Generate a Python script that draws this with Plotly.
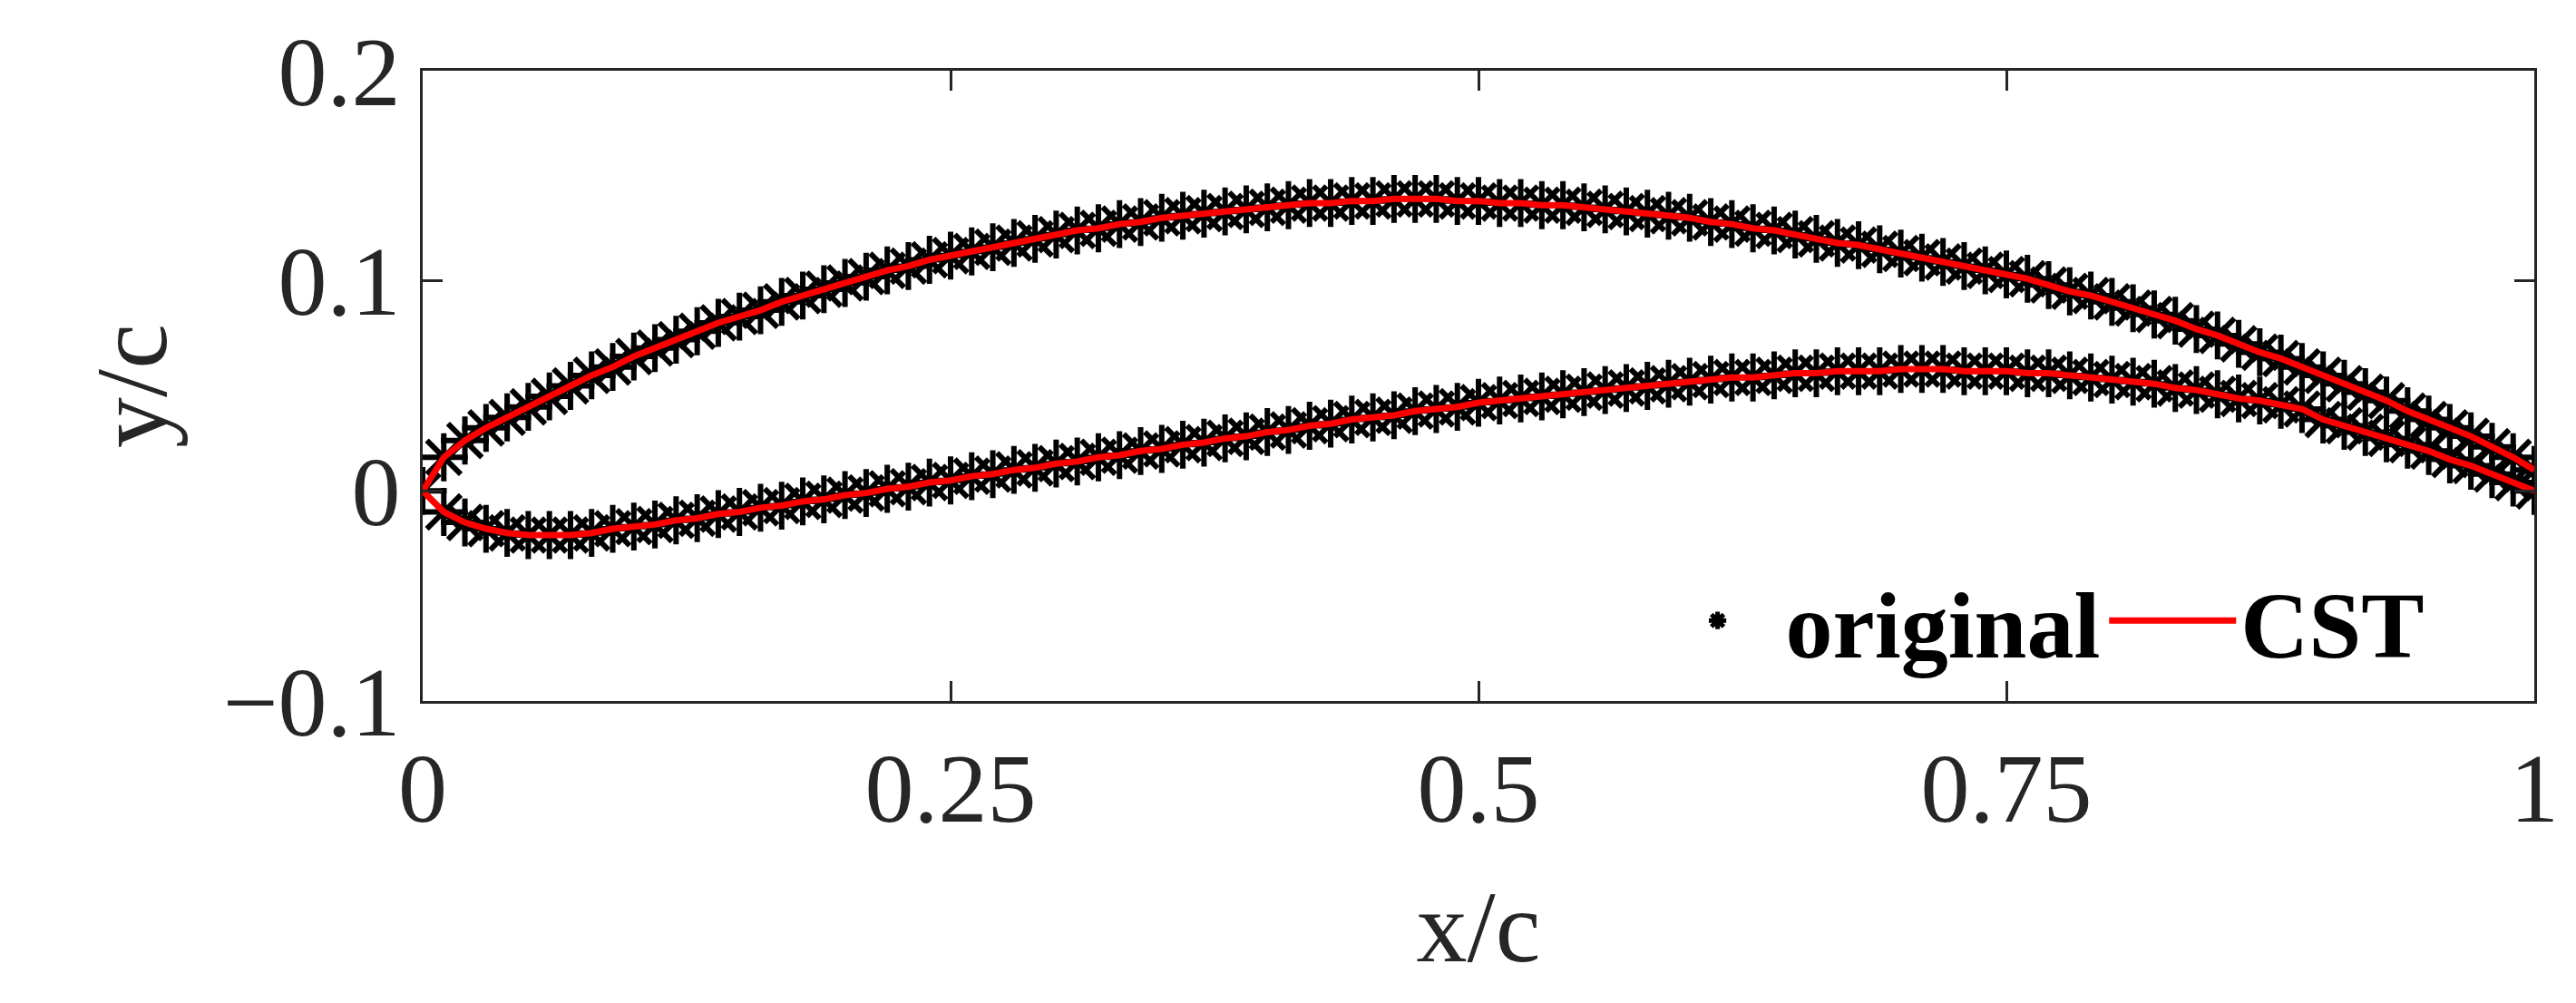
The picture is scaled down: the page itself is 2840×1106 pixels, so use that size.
import plotly.graph_objects as go

# chordwise stations (x/c)
x_c = [i / 100 for i in range(101)]

y_upper = [
    0.000, 0.016, 0.024, 0.030, 0.035, 0.040, 0.045, 0.050, 0.055, 0.059,
    0.064, 0.068, 0.072, 0.076, 0.080, 0.083, 0.086, 0.090, 0.093, 0.096,
    0.099, 0.102, 0.105, 0.107, 0.110, 0.112, 0.114, 0.116, 0.118, 0.120,
    0.122, 0.124, 0.125, 0.127, 0.128, 0.130, 0.131, 0.132, 0.133, 0.134,
    0.135, 0.136, 0.137, 0.137, 0.138, 0.138, 0.139, 0.139, 0.139, 0.138,
    0.138, 0.137, 0.137, 0.136, 0.136, 0.135, 0.134, 0.133, 0.132, 0.131,
    0.130, 0.128, 0.127, 0.125, 0.124, 0.122, 0.120, 0.118, 0.117, 0.115,
    0.113, 0.111, 0.109, 0.107, 0.105, 0.103, 0.101, 0.098, 0.095, 0.093,
    0.090, 0.087, 0.084, 0.081, 0.077, 0.074, 0.070, 0.066, 0.063, 0.059,
    0.055, 0.051, 0.047, 0.043, 0.038, 0.034, 0.030, 0.026, 0.021, 0.016,
    0.010,
]

y_lower = [
    0.000, -0.010, -0.015, -0.018, -0.020, -0.021, -0.021, -0.021, -0.020, -0.018,
    -0.017, -0.016, -0.014, -0.013, -0.011, -0.010, -0.008, -0.007, -0.005, -0.004,
    -0.002, -0.001, 0.001, 0.002, 0.004, 0.005, 0.007, 0.008, 0.010, 0.011,
    0.013, 0.014, 0.016, 0.017, 0.019, 0.020, 0.022, 0.023, 0.025, 0.026,
    0.028, 0.029, 0.031, 0.032, 0.034, 0.035, 0.036, 0.038, 0.039, 0.040,
    0.042, 0.043, 0.044, 0.045, 0.046, 0.047, 0.048, 0.049, 0.050, 0.051,
    0.052, 0.053, 0.054, 0.054, 0.055, 0.056, 0.056, 0.057, 0.057, 0.057,
    0.058, 0.058, 0.058, 0.057, 0.057, 0.057, 0.056, 0.056, 0.055, 0.054,
    0.053, 0.052, 0.051, 0.049, 0.048, 0.046, 0.044, 0.043, 0.041, 0.039,
    0.034, 0.031, 0.028, 0.025, 0.022, 0.019, 0.015, 0.012, 0.008, 0.004,
    0.000,
]

# closed contour: trailing edge -> upper -> leading edge -> lower -> trailing edge
xs = x_c[::-1] + x_c[1:]
ys = y_upper[::-1] + y_lower[1:]

serif = "Liberation Serif, DejaVu Serif, serif"

fig = go.Figure()
fig.add_trace(go.Scatter(
    x=xs, y=ys, mode="markers", name="original",
    marker=dict(symbol="asterisk-open", size=44, color="black",
                line=dict(color="black", width=6)),
))
fig.add_trace(go.Scatter(
    x=xs, y=ys, mode="lines", name="CST",
    line=dict(color="#ff0000", width=7),
))

axis_common = dict(
    showline=True, linecolor="#262626", linewidth=3, mirror="ticks",
    ticks="inside", ticklen=22, tickwidth=3, tickcolor="#262626",
    showgrid=False, zeroline=False,
    tickfont=dict(family=serif, size=108, color="#262626"),
)
fig.update_xaxes(range=[0, 1], tickvals=[0, 0.25, 0.5, 0.75, 1],
                 ticktext=["0", "0.25", "0.5", "0.75", "1"],
                 title=dict(text="x/c", font=dict(family=serif, size=112, color="#262626"),
                            standoff=55),
                 **axis_common)
fig.update_yaxes(range=[-0.1, 0.2], tickvals=[-0.1, 0, 0.1, 0.2],
                 ticktext=["\u22120.1", "0", "0.1", "0.2"],
                 title=dict(text="y/c", font=dict(family=serif, size=112, color="#262626"),
                            standoff=25),
                 **axis_common)

fig.update_layout(
    width=2840, height=1106,
    margin=dict(l=458, r=54, t=68, b=341),
    plot_bgcolor="white", paper_bgcolor="white",
    legend=dict(orientation="h", x=0.95, y=0.02, xanchor="right", yanchor="bottom",
                bgcolor="rgba(0,0,0,0)",
                font=dict(family=serif, size=104, color="black", weight="bold"),
                itemwidth=140),
)

fig.write_html("out.html")
